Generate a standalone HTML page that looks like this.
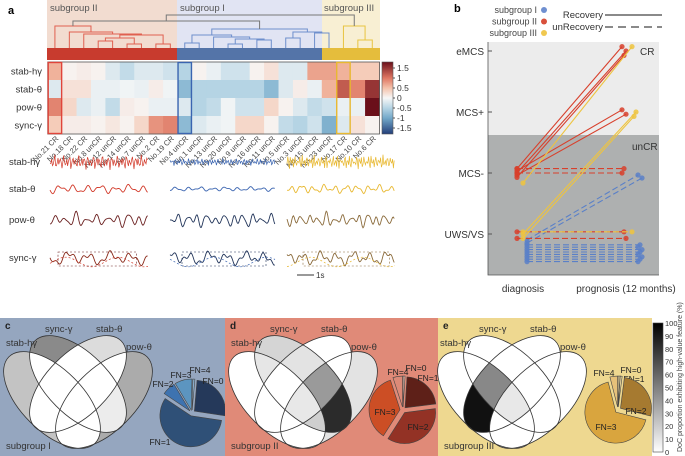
<!DOCTYPE html>
<html><head><meta charset="utf-8">
<style>
html,body{margin:0;padding:0;background:#fff;}
svg{display:block;font-family:"Liberation Sans",sans-serif;}
</style></head>
<body>
<svg id="fig" width="685" height="456" viewBox="0 0 685 456" xmlns="http://www.w3.org/2000/svg">
<defs>
<linearGradient id="hmgrad" x1="0" y1="1" x2="0" y2="0">
<stop offset="0" stop-color="#233e7a"/><stop offset="0.22" stop-color="#73a8c9"/><stop offset="0.36" stop-color="#b5d4e4"/><stop offset="0.5" stop-color="#f7f7f7"/><stop offset="0.64" stop-color="#f4c1aa"/><stop offset="0.78" stop-color="#de7561"/><stop offset="1" stop-color="#6a0f1a"/>
</linearGradient>
<linearGradient id="graygrad" x1="0" y1="1" x2="0" y2="0"><stop offset="0" stop-color="#fff"/><stop offset="1" stop-color="#000"/></linearGradient>
</defs>
<g id="pa">
<text x="8" y="14" font-size="11" font-weight="bold">a</text>
<rect x="47" y="0" width="130" height="60" fill="#f2dcd0"/>
<rect x="177" y="0" width="145" height="60" fill="#e1e4f3"/>
<rect x="322" y="0" width="58" height="60" fill="#f8efd3"/>
<text x="50" y="11" font-size="9.5" fill="#555">subgroup II</text>
<text x="180" y="11" font-size="9.5" fill="#555">subgroup I</text>
<text x="324" y="11" font-size="9.5" fill="#555">subgroup III</text>
<rect x="47" y="48" width="130" height="12" fill="#c83b2e"/>
<rect x="177" y="48" width="145" height="12" fill="#5474a8"/>
<rect x="322" y="48" width="58" height="12" fill="#e5bd3c"/>
<g id="dendro"></g>
<g id="heat"></g>
<g id="signals"></g>
</g>
<g id="pb"></g>
<g id="pcde"></g>
</svg>
<script>
const NS="http://www.w3.org/2000/svg";
function mk(tag,attrs,parent,txt){const e=document.createElementNS(NS,tag);for(const k in attrs)e.setAttribute(k,attrs[k]);if(txt!==undefined)e.textContent=txt;parent.appendChild(e);return e;}

// ---------- Panel a data ----------
const hmColumns=["No.21 CR","No.18 CR","No.22 CR","No.8 unCR","No.12 unCR","No.14 unCR","No.7 unCR","No.2 CR","No.19 CR","No.4 unCR","No.1 unCR","No.13 unCR","No.20 unCR","No.9 unCR","No.16 unCR","No.11 unCR","No.5 unCR","No.3 unCR","No.15 unCR","No.23 unCR","No.17 CR","No.10 CR","No.6 CR"];
const hmRows=["stab-hγ","stab-θ","pow-θ","sync-γ"];
const hmStabHG=[0.6,0.05,0.1,0.05,-0.2,-0.4,-0.2,-0.2,-0.3,-0.5,0.05,-0.1,-0.3,-0.3,0.05,0.2,-0.2,-0.2,0.7,0.7,0.6,0.4,0.4];
const hmStabT=[-0.2,0.2,0.2,-0.1,-0.1,-0.05,-0.1,0.1,-0.05,-0.8,-0.5,-0.5,-0.5,-0.5,-0.5,-0.8,-0.2,0.1,-0.1,0.6,1.2,0.9,1.5];
const hmPowT=[0.9,0.3,-0.2,-0.1,-0.4,0.1,0.05,-0.1,-0.1,-0.2,-0.5,-0.4,-0.05,-0.3,-0.3,0.3,0.05,-0.2,-0.4,-0.3,-0.1,-0.1,1.9];
const hmSyncG=[0.4,0.1,0.1,0.05,0.15,0.05,0.3,0.8,0.9,-0.8,-0.2,-0.1,-0.05,0.3,0.3,0.05,-0.4,-0.5,-0.3,-0.9,-0.2,0.2,0.05];
const cbTicks=[1.5,1,0.5,0,-0.5,-1,-1.5];
const cbTickLabels=["1.5","1","0.5","0","-0.5","-1","-1.5"];

const HX0=47.7,HX1=379.5,HY0=62,HY1=134;
const cw=(HX1-HX0)/hmColumns.length, rh=(HY1-HY0)/hmRows.length;
const colX=i=>HX0+cw*i;
const colC=i=>HX0+cw*(i+0.5);
const cbY=v=>98-v*(36/1.8);
function lerp(a,b,t){return Math.round(a+(b-a)*t);}
function hex(c){return [parseInt(c.slice(1,3),16),parseInt(c.slice(3,5),16),parseInt(c.slice(5,7),16)];}
const stops=[[-1.8,"#233e7a"],[-1,"#73a8c9"],[-0.5,"#b5d4e4"],[0,"#f7f7f7"],[0.5,"#f4c1aa"],[1,"#de7561"],[1.8,"#6a0f1a"]];
function cmap(v){v=Math.max(-1.8,Math.min(1.8,v));for(let i=0;i<stops.length-1;i++){const[a,ca]=stops[i],[b,cb]=stops[i+1];if(v<=b){const t=(v-a)/(b-a),A=hex(ca),B=hex(cb);return `rgb(${lerp(A[0],B[0],t)},${lerp(A[1],B[1],t)},${lerp(A[2],B[2],t)})`;}}return stops[stops.length-1][1];}

const heat=document.getElementById('heat');
[hmStabHG,hmStabT,hmPowT,hmSyncG].forEach((row,r)=>{
  row.forEach((v,i)=>{
    const c=mk('rect',{x:colX(i),y:HY0+rh*r,width:cw+0.4,height:rh+0.4,fill:cmap(v)},heat);
    
    
  });
  const t=mk('text',{x:42,y:HY0+rh*(r+0.5)+3.5,'font-size':9.5,'text-anchor':'end',fill:'#333'},heat,hmRows[r]);
  
  
});
mk('rect',{x:HX0,y:HY0,width:HX1-HX0,height:HY1-HY0,fill:'none',stroke:'#555','stroke-width':0.8},heat);
[[0,'#e0443a'],[9,'#3a64b0'],[20,'#e8b830']].forEach(([i,c])=>{const b=mk('rect',{x:colX(i)+0.5,y:HY0+0.5,width:cw-1,height:HY1-HY0-1,fill:'none',stroke:c,'stroke-width':1.4},heat);});
hmColumns.forEach((n,i)=>{const x=colC(i)+4,y=139;const t=mk('text',{x:x,y:y,'font-size':7.5,'text-anchor':'end',fill:'#444',transform:`rotate(-45 ${x} ${y})`},heat,n);});
mk('rect',{x:382,y:62,width:11,height:72,fill:'url(#hmgrad)',stroke:'#555','stroke-width':0.6,},heat);
cbTicks.forEach((v,i)=>{mk('line',{x1:393,x2:395,y1:cbY(v),y2:cbY(v),stroke:'#555'},heat);const t=mk('text',{x:397,y:cbY(v)+3,'font-size':8.5,fill:'#333'},heat,cbTickLabels[i]);});

// dendrogram
const treeRed=[0,[1,[2,[[[3,4,41],[5,6,44],38],[7,8,44],35],34],32],26];
const treeBlue=[[[9,10,43],[11,[[12,13,44],[14,15,40],39],37],35],[[16,17,38],[18,19,33],32],29];
const treeYellow=[20,[21,22,40],26];
const dendro=document.getElementById('dendro');
function drawTree(n,col){
  if(typeof n==='number')return {x:colC(n),y:48};
  const a=drawTree(n[0],col),b=drawTree(n[1],col),h=n[2];
  mk('path',{d:`M${a.x} ${a.y}V${h}H${b.x}V${b.y}`,fill:'none',stroke:col,'stroke-width':1},dendro);
  return {x:(a.x+b.x)/2,y:h};
}
const rR=drawTree(treeRed,'#e06050'),rB=drawTree(treeBlue,'#6e8fcc'),rY=drawTree(treeYellow,'#e8c440');
mk('path',{d:`M${rR.x} ${rR.y}V21H${rB.x}V${rB.y}`,fill:'none',stroke:'#777'},dendro);
mk('path',{d:`M${(rR.x+rB.x)/2} 21V15H${rY.x}V${rY.y}`,fill:'none',stroke:'#777'},dendro);

// signals (illustrative waveforms)
const sigLabels=["stab-hγ","stab-θ","pow-θ","sync-γ"];
const sigY=[162,189,220,258];
const sigAmp=[8,5,9,8];
const segs=[[50,148,['#d23a2a','#d23a2a','#6b2020','#8a2a1a']],[170,275,['#3a64b0','#3a64b0','#22355a','#22355a']],[287,395,['#e8b830','#e8b830','#8a6a3a','#8a6a3a']]];
const sig=document.getElementById('signals');
sigLabels.forEach((l,r)=>{const t=mk('text',{x:9,y:sigY[r]+3,'font-size':9.5,fill:'#333'},sig,l);});
segs.forEach(([x0,x1,cols],s)=>{
  sigY.forEach((y,r)=>{
    let d='';const fr=[[2.1,1.3,3.7],[0.45,0.8,0.2],[0.6,0.35,0.9],[0.3,0.7,0.15]][r];
    const amp=sigAmp[r]*(s===1&&r<2?0.5:1);
    for(let x=x0;x<=x1;x+=0.8){const k=x*(1+s*0.13);
      let v=Math.sin(k*fr[0])*0.5+Math.sin(k*fr[1]+s)*0.3+Math.sin(k*fr[2]+r)*0.2;
      if(r===2)v*=0.5+0.5*Math.abs(Math.sin(k*0.06+s));
      d+=(d?'L':'M')+x.toFixed(1)+' '+(y-v*amp).toFixed(1);}
    const p=mk('path',{d:d,fill:'none',stroke:cols[r],'stroke-width':r===0?0.7:0.9},sig);
    
    
    if(r===3){let d2='';for(let x=x0;x<=x1;x+=1){const v=Math.sin(x*0.12+s)*0.6;d2+=(d2?'L':'M')+x+' '+(y+4-v*8).toFixed(1);}mk('path',{d:d2,fill:'none',stroke:cols[0],'stroke-width':0.7,'stroke-dasharray':'2 2'},sig);
      mk('rect',{x:x0+8+s*4,y:y-6,width:(x1-x0)*0.8,height:14,fill:'none',stroke:cols[2],'stroke-width':0.6,'stroke-dasharray':'2 2'},sig);}
  });
});
mk('line',{x1:297,x2:314,y1:275,y2:275,stroke:'#333'},sig);
mk('text',{x:316,y:278,'font-size':8,fill:'#333',},sig,'1s');

// ---------- Panel b ----------
const bLevels=["UWS/VS","MCS-","MCS+","eMCS"];
const bGroups=["subgroup I","subgroup II","subgroup III"];
const redDiag=[1,1,1,1,1,1,1,0,0];
const redProg=[3,3,3,2,2,1,1,0,0];
const redRec=[1,1,1,1,1,0,0,0,0];
const yelDiag=[1,0,0,0];
const yelProg=[3,2,2,0];
const yelRec=[1,1,1,0];
const bluDiag=[0,0,0,0,0,0,0,0,0,0];
const bluProg=[1,1,0,0,0,0,0,0,0,0];
const bluRec=[0,0,0,0,0,0,0,0,0,0];
const pb=document.getElementById('pb');
const bx=s=>s===0?523:628;
const by=l=>234-l*61;
mk('text',{x:454,y:12,'font-size':11,'font-weight':'bold'},pb,'b');
mk('rect',{x:488,y:42,width:171,height:93,fill:'#ececec',},pb);
mk('rect',{x:488,y:135,width:171,height:140,fill:'#aeb0b0',},pb);
mk('path',{d:'M488 42V275H659',fill:'none',stroke:'#555','stroke-width':0.8},pb);
bLevels.forEach((l,i)=>{mk('line',{x1:488,x2:492,y1:by(i),y2:by(i),stroke:'#555'},pb);const t=mk('text',{x:484,y:by(i)+4,'font-size':10,'text-anchor':'end',fill:'#333'},pb,l);});
mk('text',{x:523,y:292,'font-size':10,'text-anchor':'middle',fill:'#333',},pb,'diagnosis');
mk('text',{x:626,y:292,'font-size':10,'text-anchor':'middle',fill:'#333',},pb,'prognosis (12 months)');
mk('text',{x:640,y:55,'font-size':10,fill:'#333'},pb,'CR');
mk('text',{x:632,y:150,'font-size':10,fill:'#333'},pb,'unCR');
function drawGroup(diag,prog,rec,col,gx0,gx1,gi){
  diag.forEach((d,k)=>{
    let dy=((k*7)%5-2)*2.2, dy2=dy;
    if(gi===0&&prog[k]===0){dy=6+k*2.4;dy2=dy;}
    if(gi===0&&prog[k]===1){dy=6+k*3;dy2=2+k*3;}
    if(gi===2&&k===0){dy=10;}
    const x1=bx(0)+gx0+((k*3)%3-1)*2,y1=by(d)+dy,x2=bx(1)+gx1+((k*5)%3-1)*2,y2=by(prog[k])+dy2;
    const ln=mk('line',{x1:x1,y1:y1,x2:x2,y2:y2,stroke:col,'stroke-width':1.1,'stroke-dasharray':rec[k]?'':'6 3'},pb);
    
    
    [[x1,y1],[x2,y2]].forEach(([x,y])=>{const c=mk('circle',{cx:x,cy:y,r:2.6,fill:col,'fill-opacity':0.85},pb);});
  });
}
drawGroup(bluDiag,bluProg,bluRec,'#5a80c8',6,12,0);
drawGroup(redDiag,redProg,redRec,'#d8402c',-4,-4,1);
drawGroup(yelDiag,yelProg,yelRec,'#eec440',2,6,2);
const legCols=['#6f8fd0','#d8503c','#f0c850'];
bGroups.forEach((g,i)=>{const t=mk('text',{x:537,y:13+i*11.5,'font-size':9,'text-anchor':'end',fill:'#444'},pb,g);mk('circle',{cx:544,cy:10+i*11.5,r:3,fill:legCols[i]},pb);});
mk('text',{x:603,y:18,'font-size':9.5,'text-anchor':'end',fill:'#333',},pb,'Recovery');
mk('line',{x1:605,x2:662,y1:15,y2:15,stroke:'#444','stroke-width':1.2},pb);
mk('text',{x:603,y:30,'font-size':9.5,'text-anchor':'end',fill:'#333',},pb,'unRecovery');
mk('line',{x1:605,x2:662,y1:27,y2:27,stroke:'#444','stroke-width':1.2,'stroke-dasharray':'8 5'},pb);

// ---------- Panels c d e ----------
const pieC=[26,57,7,9,1];
const pieD=[1,22,36,36,5];
const pieE=[1,1,27,67,4];
const pieLabels=["FN=0","FN=1","FN=2","FN=3","FN=4"];
const grayTicks=[0,10,20,30,40,50,60,70,80,90,100];
const P=document.getElementById('pcde');
const panels=[
 {id:'c',x:0,w:225,bg:'#95a6bf',vx:78,px:192,py:413,pie:pieC,cols:['#25395a','#2f5077','#3e73b0','#5c95c0','#8fb8d8'],sub:'subgroup I',
  lab:[[213,381],[160,442],[163,384],[181,375],[200,370]],
  regions:[[[0],'#c3c3c3'],[[1],'#8a8a8a'],[[2],'#dcdcdc'],[[3],'#ababab'],[[1,3],'#ececec']]},
 {id:'d',x:225,w:213,bg:'#e08a78',vx:303,px:403,py:410,pie:pieD,cols:['#e8c0b0','#5e2018','#933225','#cc4e25','#dc8a78'],sub:'subgroup II',
  lab:[[416,368],[428,378],[418,427],[385,412],[398,372]],
  regions:[[[1],'#d5d5d5'],[[1,2],'#e3e3e3'],[[3],'#e3e3e3'],[[1,3],'#2b2b2b'],[[1,2,3],'#9a9a9a'],[[0,1],'#e6e6e6'],[[0,1,2,3],'#e8e8e8'],[[0,1,3],'#cfcfcf']]},
 {id:'e',x:438,w:214,bg:'#eed890',vx:512,px:618,py:410,pie:pieE,cols:['#f0dca0','#f0dca0','#a67a30','#d9a53e','#e6c17a'],sub:'subgroup III',
  lab:[[631,370],[634,379],[636,411],[606,427],[604,373]],
  regions:[[[0,2],'#111111'],[[0,1,2],'#888888'],[[0,1,2,3],'#e8e8e8']]}
];
const ells=[[-26,400,61,31,45],[0,384,61,31,45],[0,384,61,31,-45],[26,400,61,31,-45]];
const setNames=["stab-hγ","sync-γ","stab-θ","pow-θ"];
const defs=document.querySelector('defs');
panels.forEach(p=>{
  const g=mk('g',{},P);
  
  
  mk('rect',{x:p.x,y:318,width:p.w,height:138,fill:p.bg},g);
  mk('text',{x:p.x+5,y:329,'font-size':10,'font-weight':'bold',fill:'#222'},g,p.id);
  const eAttr=i=>{const[e0,e1,rx,ry,rot]=ells[i];const cx=p.vx+e0,cy=e1;return {cx:cx,cy:cy,rx:rx,ry:ry,transform:`rotate(${rot} ${cx} ${cy})`};};
  ells.forEach((e,i)=>{const cp=mk('clipPath',{id:`cp${p.id}${i}`},defs);mk('ellipse',eAttr(i),cp);mk('ellipse',Object.assign(eAttr(i),{fill:'#fff'}),g);});
  p.regions.forEach(([set,fill],ri)=>{
    const m=mk('mask',{id:`m${p.id}${ri}`},defs);
    mk('rect',{x:0,y:0,width:685,height:456,fill:'#fff'},m);
    for(let i=0;i<4;i++)if(!set.includes(i))mk('ellipse',Object.assign(eAttr(i),{fill:'#000'}),m);
    let parent=mk('g',{mask:`url(#m${p.id}${ri})`},g);
    set.forEach(i=>{parent=mk('g',{'clip-path':`url(#cp${p.id}${i})`},parent);});
    const r=mk('rect',{x:p.x,y:318,width:p.w,height:138,fill:fill},parent);
    
    
  });
  ells.forEach((e,i)=>{const el=mk('ellipse',Object.assign(eAttr(i),{fill:'none',stroke:'#333','stroke-width':0.8}),g);});
  const lx=[p.vx-72,p.vx-33,p.vx+18,p.vx+48],ly=[346,332,332,350];
  setNames.forEach((n,i)=>{const t=mk('text',{x:lx[i],y:ly[i],'font-size':9.5,fill:'#333'},g,n);});
  mk('text',{x:p.x+6,y:449,'font-size':9.5,fill:'#333',},g,p.sub);
  const tot=p.pie.reduce((a,b)=>a+b,0);let a0=(p.id==='c'?5:0)*Math.PI/180;const R=31;
  p.pie.forEach((v,i)=>{
    const a1=a0+v/tot*2*Math.PI,mid=(a0+a1)/2,ox=Math.sin(mid)*3,oy=-Math.cos(mid)*3;
    const cx=p.px+ox,cy=p.py+oy;
    const x0=cx+R*Math.sin(a0),y0=cy-R*Math.cos(a0),x1=cx+R*Math.sin(a1),y1=cy-R*Math.cos(a1);
    const s=mk('path',{d:`M${cx} ${cy}L${x0} ${y0}A${R} ${R} 0 ${a1-a0>Math.PI?1:0} 1 ${x1} ${y1}Z`,fill:p.cols[i],stroke:'#444','stroke-width':0.6},g);
    
    
    const t=mk('text',{x:p.lab[i][0],y:p.lab[i][1]+3,'font-size':8.5,'text-anchor':'middle',fill:'#222'},g,pieLabels[i]);
    
    
    a0=a1;
  });
});
mk('rect',{x:653,y:323,width:10,height:129,fill:'url(#graygrad)',stroke:'#444','stroke-width':0.6,},P);
grayTicks.forEach(v=>{const y=452-v*1.29;const t=mk('text',{x:665,y:y+3,'font-size':7.5,fill:'#333'},P,String(v));});
mk('text',{x:682,y:452,'font-size':7,fill:'#444',transform:'rotate(-90 682 452)',},P,'DoC proportion exhibiting high-value feature (%)');
</script>
</body></html>
